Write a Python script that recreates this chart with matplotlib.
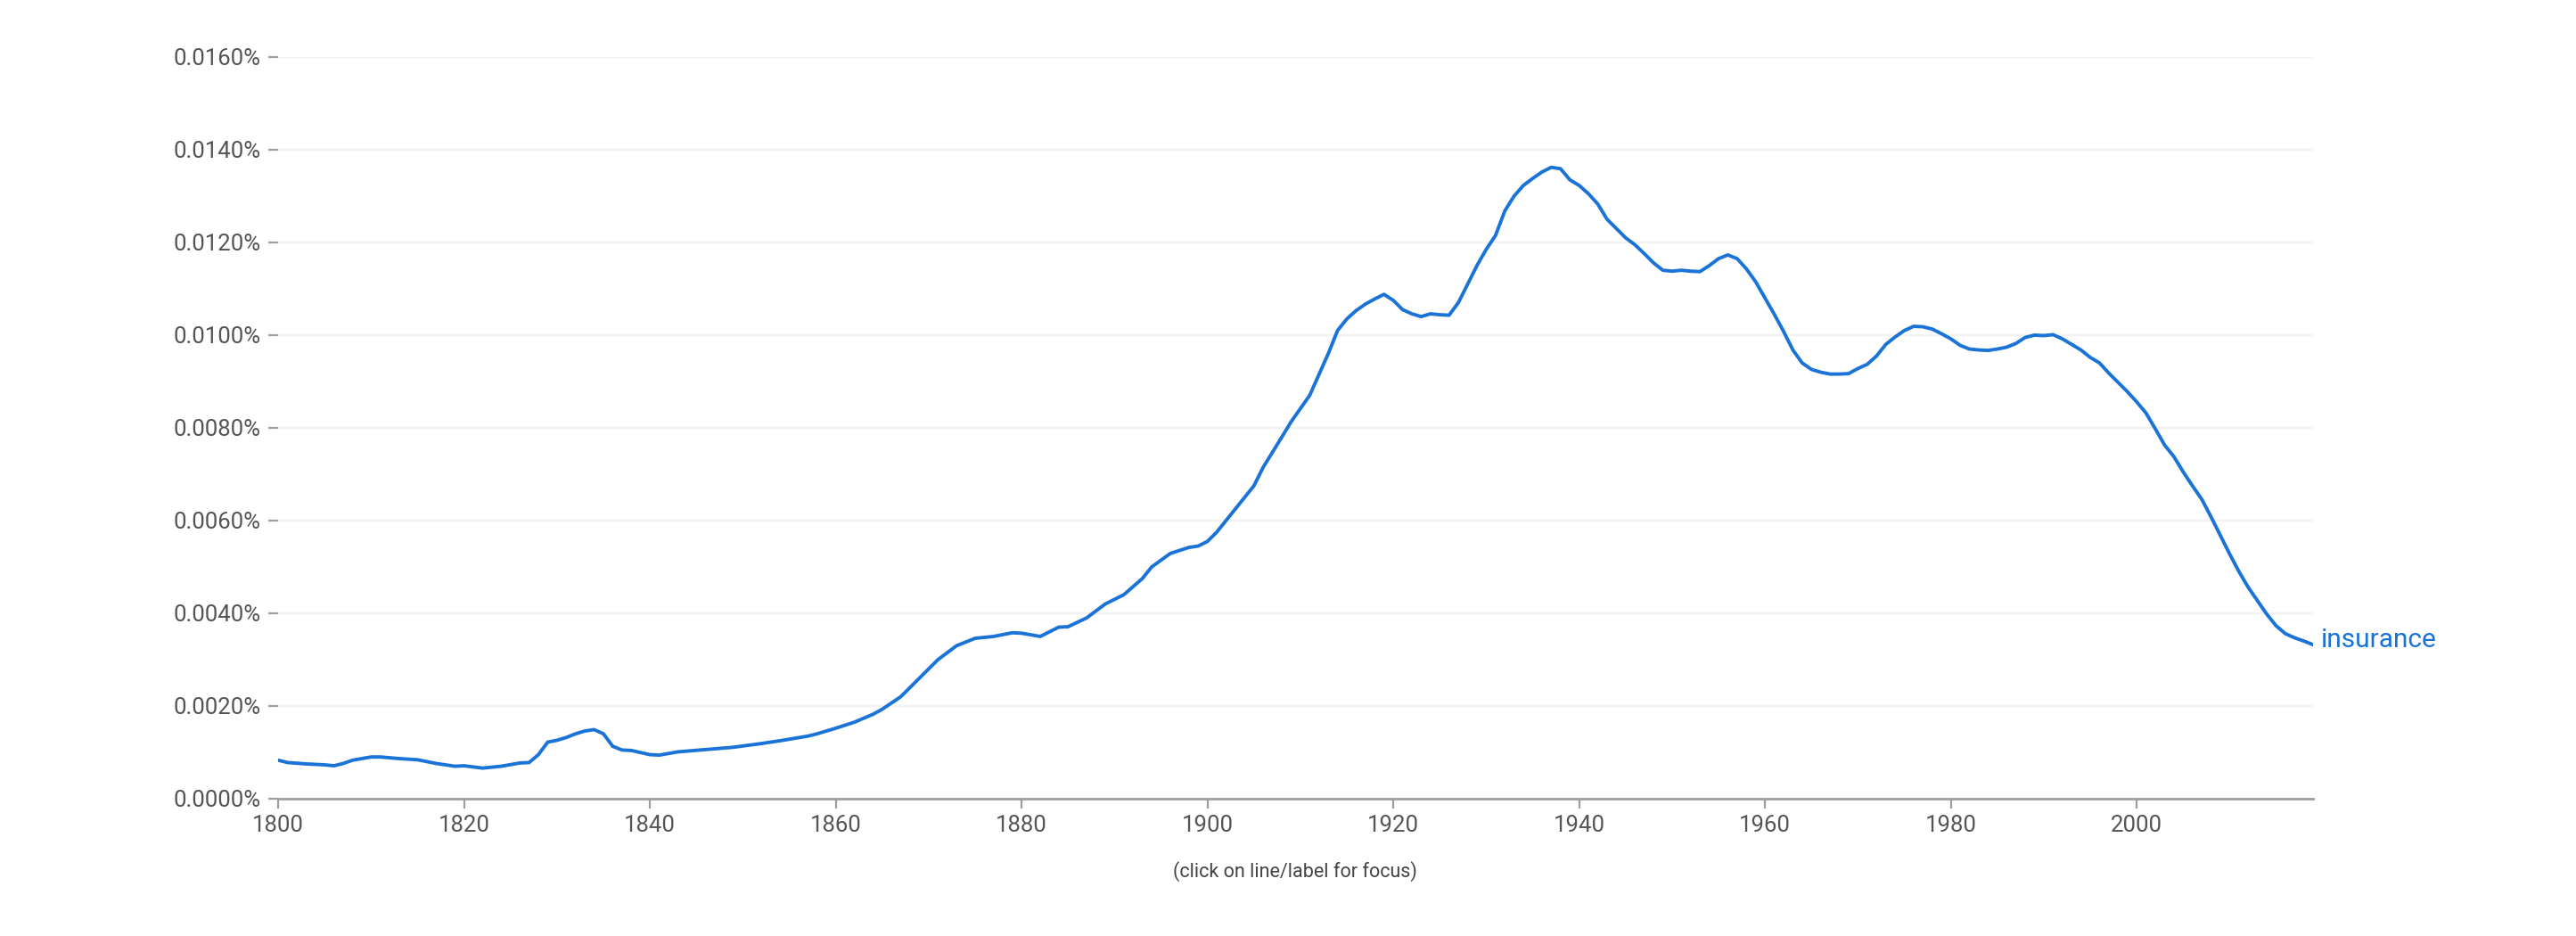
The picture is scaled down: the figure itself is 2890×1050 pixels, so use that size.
import matplotlib.pyplot as plt
from matplotlib.ticker import FuncFormatter

plt.rcParams['font.family'] = ['Roboto', 'DejaVu Sans']

# values, in units of 0.0001 %
years = [1800, 1801, 1803, 1805, 1806, 1807, 1808, 1810, 1811, 1813, 1815, 1817, 1819, 1820,
         1822, 1824, 1826, 1827, 1828, 1829, 1830, 1831, 1832, 1833, 1834, 1835, 1836, 1837,
         1838, 1840, 1841, 1843, 1846, 1849, 1852, 1854, 1857, 1858, 1860, 1862, 1864, 1865,
         1867, 1869, 1871, 1873, 1875, 1877, 1879, 1880, 1882, 1884, 1885, 1887, 1889, 1891,
         1893, 1894, 1896, 1898, 1899, 1900, 1901, 1903, 1905, 1906, 1908, 1909, 1911, 1912,
         1913, 1914, 1915, 1916, 1917, 1918, 1919, 1920, 1921, 1922, 1923, 1924, 1925, 1926,
         1927, 1928, 1929, 1930, 1931, 1932, 1933, 1934, 1935, 1936, 1937, 1938, 1939, 1940,
         1941, 1942, 1943, 1944, 1945, 1946, 1947, 1948, 1949, 1950, 1951, 1952, 1953, 1954,
         1955, 1956, 1957, 1958, 1959, 1960, 1961, 1962, 1963, 1964, 1965, 1966, 1967, 1968,
         1969, 1970, 1971, 1972, 1973, 1974, 1975, 1976, 1977, 1978, 1979, 1980, 1981, 1982,
         1983, 1984, 1985, 1986, 1987, 1988, 1989, 1990, 1991, 1992, 1993, 1994, 1995, 1996,
         1997, 1998, 1999, 2000, 2001, 2002, 2003, 2004, 2005, 2006, 2007, 2008, 2009, 2010,
         2011, 2012, 2013, 2014, 2015, 2016, 2017, 2018, 2019]
insurance = [8.3, 7.8, 7.5, 7.3, 7.1, 7.6, 8.3, 9.0, 9.0, 8.65, 8.4, 7.6, 7.0, 7.1,
             6.6, 7.0, 7.7, 7.8, 9.5, 12.2, 12.6, 13.2, 14.0, 14.6, 14.9, 14.0, 11.3, 10.5,
             10.4, 9.5, 9.4, 10.1, 10.6, 11.1, 11.9, 12.5, 13.5, 14.0, 15.2, 16.5, 18.2, 19.3,
             22.0, 26.0, 30.0, 33.0, 34.6, 35.0, 35.8, 35.7, 35.0, 37.0, 37.1, 39.0, 42.0, 44.0,
             47.5, 50.0, 52.9, 54.2, 54.5, 55.5, 57.5, 62.5, 67.5, 71.5, 78.0, 81.3, 87.0, 91.5,
             96.0, 101.0, 103.5, 105.3, 106.7, 107.8, 108.8, 107.5, 105.5, 104.6, 104.0, 104.6, 104.4, 104.3,
             107.0, 111.0, 115.0, 118.5, 121.5, 126.8, 130.0, 132.3, 133.8, 135.2, 136.2, 135.9, 133.5, 132.3,
             130.5, 128.3, 125.0, 123.0, 121.0, 119.5, 117.6, 115.6, 114.0, 113.8, 114.0, 113.8, 113.7, 115.0,
             116.5, 117.3, 116.5, 114.3, 111.5, 108.0, 104.5, 100.8, 96.8, 94.0, 92.6, 92.0, 91.6, 91.6,
             91.7, 92.8, 93.7, 95.5, 98.0, 99.6, 101.0, 101.9, 101.8, 101.3, 100.3, 99.2, 97.8, 97.0,
             96.8, 96.7, 97.0, 97.4, 98.2, 99.5, 100.0, 99.9, 100.1, 99.2, 98.0, 96.8, 95.2, 94.0,
             91.8, 89.8, 87.8, 85.6, 83.2, 79.8, 76.3, 73.8, 70.5, 67.5, 64.6, 60.8, 56.8, 52.8,
             49.0, 45.6, 42.7, 39.8, 37.3, 35.6, 34.7, 34.0, 33.2]
insurance = [v / 10000 for v in insurance]  # to percent

x_ticks = list(range(1800, 2001, 20))
y_ticks = [0.002 * i for i in range(9)]

line_color = '#1a73d6'
grey = '#9e9e9e'
text_grey = '#555555'

fig = plt.figure(figsize=(28.9, 10.5), dpi=100)
ax = fig.add_axes([0.108, 0.1467, 0.790, 0.7924])

ax.plot(years, insurance, color=line_color, lw=2.8, solid_joinstyle='round', solid_capstyle='round')
ax.annotate('insurance', xy=(years[-1], insurance[-1]), xytext=(6, 4), textcoords='offset points',
            va='center', ha='left', fontsize=21.5, color=line_color, annotation_clip=False)

ax.set_xlim(1800, 2019)
ax.set_ylim(0, 0.016)
ax.set_xticks(x_ticks)
ax.set_yticks(y_ticks)
ax.yaxis.set_major_formatter(FuncFormatter(lambda v, p: f'{v:.4f}%'))

ax.grid(axis='y', color='#f2f2f2', lw=1.6)
ax.set_axisbelow(True)
for s in ['top', 'right', 'left']:
    ax.spines[s].set_visible(False)
ax.spines['bottom'].set_color(grey)
ax.spines['bottom'].set_linewidth(2)

ax.tick_params(axis='both', colors=grey, labelcolor=text_grey, labelsize=18.5, width=1.6, length=8)
ax.tick_params(axis='y', pad=6)
ax.tick_params(axis='x', pad=5)

fig.text(0.5027, 0.0686, '(click on line/label for focus)', ha='center', va='center',
         fontsize=15.5, color='#444444')

plt.savefig('out.png', dpi=100)
